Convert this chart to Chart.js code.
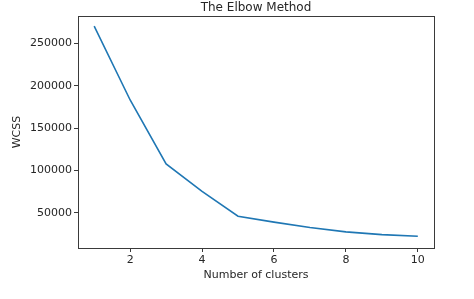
<!DOCTYPE html>
<html>
<head>
<meta charset="utf-8">
<script src="https://cdn.jsdelivr.net/npm/chart.js@4"></script>
<style>
  html, body { margin: 0; padding: 0; background: #fff; }
  #wrap { width: 474px; height: 299px; position: relative; }
</style>
</head>
<body>
<div id="wrap"><canvas id="elbowChart"></canvas></div>
<script>
// data
const clusters = [1, 2, 3, 4, 5, 6, 7, 8, 9, 10];
const wcss = [270500, 183300, 107900, 75400, 46000, 39100, 32700, 27600, 24300, 22500];
const xTicks = [2, 4, 6, 8, 10];
const yTicks = [50000, 100000, 150000, 200000, 250000];

const FONT = "'DejaVu Sans', sans-serif";
const ink = "#262626";

// matplotlib style box + centered title over the axes
const boxPlugin = {
  id: "box",
  afterDraw(chart) {
    const { ctx, chartArea: a } = chart;
    ctx.save();
    ctx.strokeStyle = "#3a3a3a";
    ctx.lineWidth = 1;
    ctx.strokeRect(a.left + 0.5, a.top + 0.5, a.right - a.left, a.bottom - a.top);
    ctx.fillStyle = ink;
    ctx.font = "12px " + FONT;
    ctx.textAlign = "center";
    ctx.textBaseline = "bottom";
    ctx.fillText("The Elbow Method", (a.left + a.right) / 2, a.top - 2);
    ctx.restore();
  },
};

new Chart(document.getElementById("elbowChart").getContext("2d"), {
  type: "line",
  data: {
    datasets: [
      {
        data: clusters.map((c, i) => ({ x: c, y: wcss[i] })),
        borderColor: "#1f77b4",
        borderWidth: 1.6,
        pointRadius: 0,
        tension: 0,
        fill: false,
      },
    ],
  },
  options: {
    responsive: true,
    maintainAspectRatio: false,
    animation: false,
    layout: { padding: { top: 16, right: 40, left: 0, bottom: 0 } },
    plugins: {
      legend: { display: false },
      tooltip: { enabled: false },
      title: { display: false },
    },
    scales: {
      x: {
        type: "linear",
        min: 0.55,
        max: 10.45,
        afterBuildTicks: (s) => { s.ticks = xTicks.map((v) => ({ value: v })); },
        afterFit: (s) => { s.height = 51; },
        grid: { drawOnChartArea: false, tickLength: 4, tickColor: "#3a3a3a" },
        border: { display: false },
        ticks: { color: ink, font: { family: FONT, size: 11 }, padding: 2, maxRotation: 0 },
        title: {
          display: true,
          text: "Number of clusters",
          color: ink,
          font: { family: FONT, size: 11 },
          padding: { top: 0, bottom: 17 },
        },
      },
      y: {
        type: "linear",
        min: 8550,
        max: 282450,
        afterBuildTicks: (s) => { s.ticks = yTicks.map((v) => ({ value: v })); },
        afterFit: (s) => { s.width = 78; },
        grid: { drawOnChartArea: false, tickLength: 4, tickColor: "#3a3a3a" },
        border: { display: false },
        ticks: {
          color: ink,
          font: { family: FONT, size: 11 },
          padding: 2,
          callback: (v) => String(v),
        },
        title: {
          display: true,
          text: "WCSS",
          color: ink,
          font: { family: FONT, size: 11 },
          padding: { top: 11, bottom: 0 },
        },
      },
    },
  },
  plugins: [boxPlugin],
});
</script>
</body>
</html>
